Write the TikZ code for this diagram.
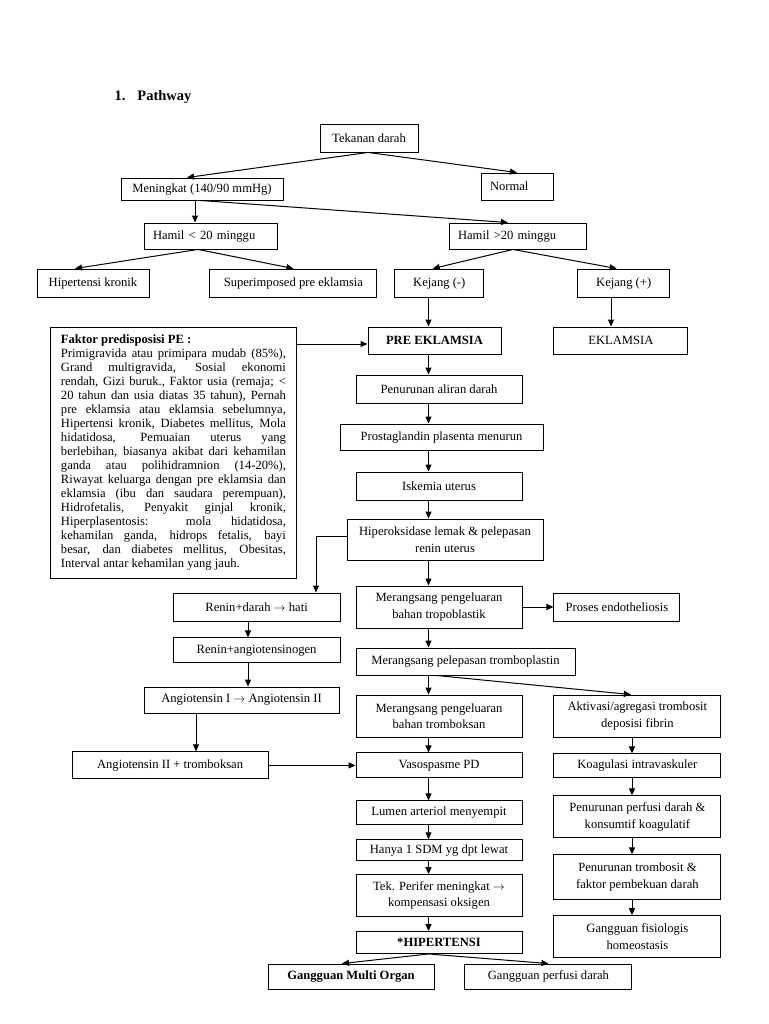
\documentclass[tikz,border=0pt]{standalone}
\usepackage{fontspec}
\setmainfont{Liberation Serif}
\newcommand{\toarr}{$\rightarrow$}
\usepackage{tikz}
\usetikzlibrary{positioning, arrows.meta}

\begin{document}
\begin{tikzpicture}[x = 1pt, y = -1pt,
                    every node/.style = {font=\fontsize{12.6}{16.5}\selectfont},
                    box/.style = {draw, line width=0.9pt, align=center, inner sep=2pt, minimum height=27pt},
                    two/.style = {box, minimum height=42pt},
                    lbox/.style = {box, align=left, inner xsep=9pt},
                    arr/.style = {draw, line width=1pt, -{Triangle[length=7pt, width=6pt]}},
                    every edge/.style = {arr}]
    \useasboundingbox (0,0) rectangle (768,1024);
    \node (title) [anchor=base west, font=\fontsize{14.5}{17}\selectfont\bfseries] at (111,101) {1.\hspace{12pt}Pathway};

    % blood pressure tree
    \node (tek)  [box, minimum width=98pt, minimum height=28pt] at (369,138) {Tekanan darah};
    \node (men)  [box, minimum width=162pt, minimum height=22pt] at (202,189) {Meningkat (140/90 mmHg)};
    \node (nor)  [lbox, text width=54pt, minimum height=27pt] at (517,186.5) {Normal\\[-2pt]};
    \node (h20a) [lbox, text width=115pt, minimum height=26pt] at (210.5,236) {Hamil < 20 minggu};
    \node (h20b) [lbox, text width=119pt, minimum height=26pt] at (517.5,236) {Hamil >20 minggu};
    \node (hk)   [box, minimum width=112pt, minimum height=28pt] at (93,283) {Hipertensi kronik};
    \node (sp)   [box, minimum width=167pt, minimum height=28pt, right = 60pt of hk] {Superimposed pre eklamsia};
    \node (kn)   [box, minimum width=89pt, minimum height=28pt, right = 17pt of sp] {Kejang (-)};
    \node (kp)   [box, minimum width=92pt, minimum height=28pt, right = 93pt of kn] {Kejang (+)};

    \node (fak)  [draw, line width=0.9pt, anchor=north west, text width=225pt, inner xsep=10.5pt, inner ysep=4pt,
                  minimum height=251pt, align=justify, font=\fontsize{12.6}{14}\selectfont] at (50,327)
        {\tolerance=10000 \hbadness=10000
         \textbf{Faktor predisposisi PE :}\\
         Primigravida atau primipara mudab (85\%),\linebreak
         Grand multigravida, Sosial ekonomi\linebreak
         rendah, Gizi buruk., Faktor usia (remaja; <\linebreak
         20 tahun dan usia diatas 35 tahun), Pernah\linebreak
         pre eklamsia atau eklamsia sebelumnya,\linebreak
         Hipertensi kronik, Diabetes mellitus, Mola\linebreak
         hidatidosa, Pemuaian uterus yang\linebreak
         berlebihan, biasanya akibat dari kehamilan\linebreak
         ganda atau polihidramnion (14-20\%),\linebreak
         Riwayat keluarga dengan pre eklamsia dan\linebreak
         eklamsia (ibu dan saudara perempuan),\linebreak
         Hidrofetalis, Penyakit ginjal kronik,\linebreak
         Hiperplasentosis: mola hidatidosa,\linebreak
         kehamilan ganda, hidrops fetalis, bayi\linebreak
         besar, dan diabetes mellitus, Obesitas,\linebreak
         Interval antar kehamilan yang jauh.};

    % centre column
    \node (pe)   [box, minimum width=133pt] at (434.5,340.5) {\textbf{PRE EKLAMSIA}};
    \node (ek)   [box, minimum width=134pt, right = 52pt of pe] {EKLAMSIA};
    \node (pad)  [box, minimum width=166pt, minimum height=28pt] at (439,389) {Penurunan aliran darah};
    \node (pro)  [box, minimum width=203pt, minimum height=26pt] at (441.5,437) {Prostaglandin plasenta menurun};
    \node (isk)  [box, minimum width=166pt, minimum height=28pt] at (439,486) {Iskemia uterus};
    \node (hip)  [two, minimum width=196pt, minimum height=41pt] at (445,539.5) {Hiperoksidase lemak \& pelepasan\\renin uterus};
    \node (trop) [two, minimum width=166pt] at (439,607) {Merangsang pengeluaran\\bahan tropoblastik};
    \node (end)  [box, minimum width=126pt, minimum height=28pt, right = 31pt of trop] {Proses endotheliosis};
    \node (tpl)  [box, minimum width=219pt] at (465.5,661.5) {Merangsang pelepasan tromboplastin};
    \node (tbk)  [two, minimum width=166pt] at (439,716) {Merangsang pengeluaran\\bahan tromboksan};
    \node (vas)  [box, minimum width=166pt, minimum height=25pt, below = 15pt of tbk] {Vasospasme PD};
    \node (lum)  [box, minimum width=166pt, minimum height=24pt, below = 22pt of vas] {Lumen arteriol menyempit};
    \node (hsd)  [box, minimum width=166pt, minimum height=21pt, below = 14pt of lum] {Hanya 1 SDM yg dpt lewat};
    \node (tk2)  [two, minimum width=166pt, below = 13pt of hsd] {Tek. Perifer meningkat \toarr\\kompensasi oksigen};
    \node (hyp)  [box, minimum width=166pt, minimum height=22pt, below = 14pt of tk2] {\textbf{*HIPERTENSI}};
    \node (gmo)  [box, minimum width=166pt, minimum height=25pt] at (351,976.5) {\textbf{Gangguan Multi Organ}};
    \node (gpd)  [box, minimum width=167pt, minimum height=25pt, right = 30pt of gmo] {Gangguan perfusi darah};

    % right column
    \node (akt)  [two, minimum width=167pt, right = 31pt of tbk] {Aktivasi/agregasi trombosit\\deposisi fibrin};
    \node (koa)  [box, minimum width=167pt, minimum height=24pt, below = 16pt of akt] {Koagulasi intravaskuler};
    \node (ppd)  [two, minimum width=167pt, below = 17pt of koa] {Penurunan perfusi darah \&\\konsumtif koagulatif};
    \node (ptr)  [two, minimum width=167pt, minimum height=45pt, below = 16pt of ppd] {Penurunan trombosit \&\\faktor pembekuan darah};
    \node (gfh)  [two, minimum width=167pt, below = 15pt of ptr] {Gangguan fisiologis\\homeostasis};

    % left column
    \node (rdh)  [box, minimum width=167pt, minimum height=28pt, left = 15pt of trop] {Renin+darah \toarr\ hati};
    \node (rag)  [box, minimum width=167pt, minimum height=25pt, below = 16pt of rdh] {Renin+angiotensinogen};
    \node (ang)  [box, minimum width=195pt, minimum height=26pt] at (241.5,700) {Angiotensin I \toarr\ Angiotensin II};
    \node (a2t)  [box, minimum width=196pt, left = 87pt of vas] {Angiotensin II + tromboksan};

    \coordinate (ax) at (428.5,0);
    \coordinate (bx) at (611,0);
    \coordinate (rx) at (632,0);
    \coordinate (lx) at (248,0);
    \coordinate (mx) at (196,0);
    \coordinate (hx) at (316,0);
    \coordinate (fy) at ([yshift=-3.5pt]pe.west);
    \coordinate (hy) at ([yshift=3.5pt]hip.west);

    \draw ([xshift=-1pt]tek.south) edge ([xshift=-15pt]men.north);
    \draw ([xshift=-1pt]tek.south) edge (nor.north);
    \draw ([xshift=-7pt]men.south) edge ([xshift=-15.5pt]h20a.north);
    \draw ([xshift=-2pt]men.south) edge ([xshift=-9.5pt]h20b.north);
    \draw ([xshift=-12.5pt]h20a.south) edge ([xshift=-18pt]hk.north);
    \draw ([xshift=-12.5pt]h20a.south) edge (sp.north);
    \draw ([xshift=-4.5pt]h20b.south) edge ([xshift=-6.5pt]kn.north);
    \draw ([xshift=-4.5pt]h20b.south) edge ([xshift=-7pt]kp.north);
    \draw (kn.south -| ax) edge (pe.north -| ax);
    \draw (kp.south -| bx) edge (ek.north -| bx);
    \draw (fy -| fak.east) edge (fy);

    \draw (pe.south -| ax) edge (pad.north -| ax);
    \draw (pad.south -| ax) edge (pro.north -| ax);
    \draw (pro.south -| ax) edge (isk.north -| ax);
    \draw (isk.south -| ax) edge (hip.north -| ax);
    \draw (hip.south -| ax) edge (trop.north -| ax);
    \draw (trop.east) edge (trop.east -| end.west);
    \draw (trop.south -| ax) edge (tpl.north -| ax);
    \draw (tpl.south -| ax) edge (tbk.north -| ax);
    \draw ([xshift=-29.5pt]tpl.south) edge ([xshift=-6.5pt]akt.north);
    \draw (tbk.south -| ax) edge (vas.north -| ax);
    \draw (vas.south -| ax) edge (lum.north -| ax);
    \draw (lum.south -| ax) edge (hsd.north -| ax);
    \draw (hsd.south -| ax) edge (tk2.north -| ax);
    \draw (tk2.south -| ax) edge (hyp.north -| ax);
    \draw (hyp.south -| ax) edge ([xshift=-9pt]gmo.north);
    \draw (hyp.south -| ax) edge (gpd.north);

    \draw (akt.south -| rx) edge (koa.north -| rx);
    \draw (koa.south -| rx) edge (ppd.north -| rx);
    \draw (ppd.south -| rx) edge (ptr.north -| rx);
    \draw (ptr.south -| rx) edge (gfh.north -| rx);

    \draw[arr] (hy) -| (rdh.north -| hx);
    \draw (rdh.south -| lx) edge (rag.north -| lx);
    \draw (rag.south -| lx) edge (ang.north -| lx);
    \draw (ang.south -| mx) edge (a2t.north -| mx);
    \draw (a2t.east) edge (vas.west);
\end{tikzpicture}
\end{document}
